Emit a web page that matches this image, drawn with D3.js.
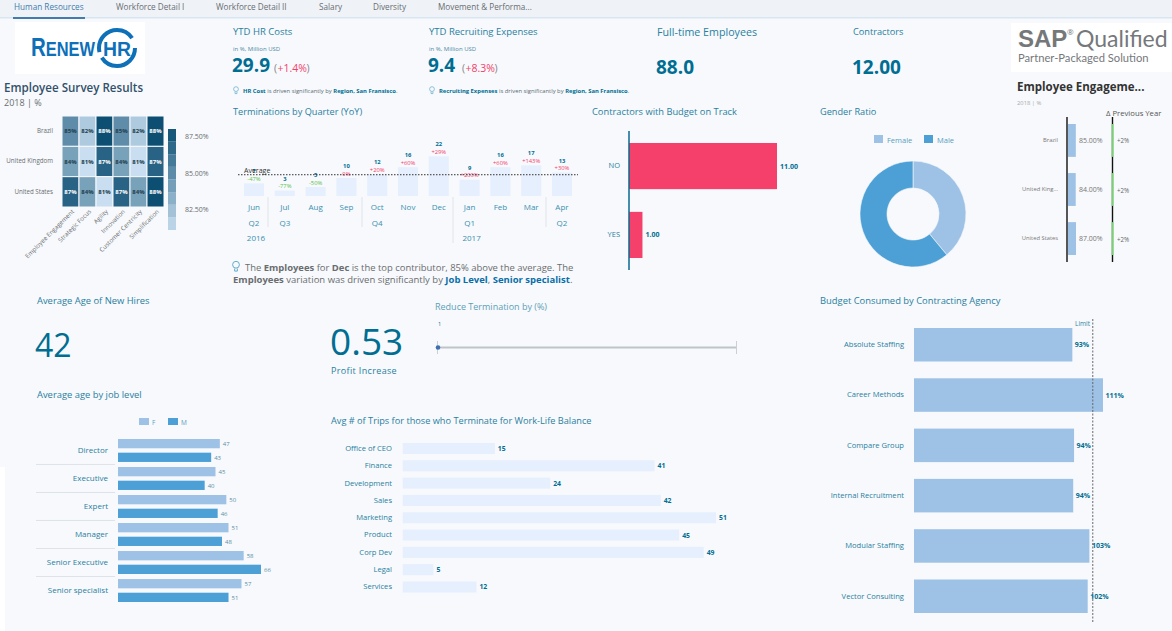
<!DOCTYPE html>
<html><head><meta charset="utf-8">
<script src="https://cdn.jsdelivr.net/npm/d3@7"></script>
<style>
html,body{margin:0;padding:0;background:#f7f9fc;overflow:hidden}
svg{display:block}
text{font-family:"Open Sans","Noto Sans",sans-serif}
</style></head><body>
<svg id="c" width="1172" height="631"></svg>
<script>
const tabs=["Human Resources","Workforce Detail I","Workforce Detail II","Salary","Diversity","Movement & Performa..."];
const surveyRows=["Brazil","United Kingdom","United States"];
const surveyCols=["Employee Engagement","Strategic Focus","Agility","Innovation","Customer Centricity","Simplification"];
const surveyBrazil=[85,82,88,85,82,88];
const surveyUK=[84,81,87,84,81,87];
const surveyUS=[87,84,81,87,84,88];
const surveyLegendTicks=[82.5,85,87.5];
const months=["Jun","Jul","Aug","Sep","Oct","Nov","Dec","Jan","Feb","Mar","Apr"];
const terminations=[7,3,5,10,12,16,22,9,16,17,13];
const termChanges=["-47%","-77%","-50%","0%","+20%","+60%","+29%","+200%","+60%","+143%","+30%"];
const quarters=["Q2","Q3","","","Q4","","","Q1","","","Q2"];
const years=["2016","","","","","","","2017","","",""];
const contractorCats=["NO","YES"];
const contractorVals=[11,1];
const genderCats=["Female","Male"];
const genderVals=[39,61];
const engageCats=["Brazil","United King...","United States"];
const engageVals=[85,84,87];
const engageDelta=["+2%","+2%","+2%"];
const jobLevels=["Director","Executive","Expert","Manager","Senior Executive","Senior specialist"];
const ageF=[47,45,50,51,58,57];
const ageM=[43,40,46,48,66,51];
const tripCats=["Office of CEO","Finance","Development","Sales","Marketing","Product","Corp Dev","Legal","Services"];
const tripVals=[15,41,24,42,51,45,49,5,12];
const agencyCats=["Absolute Staffing","Career Methods","Compare Group","Internal Recruitment","Modular Staffing","Vector Consulting"];
const agencyVals=[93,111,94,93.5,103,102];
const agencyLimit=[105];

const TEAL="#2a80a0",NUM="#006d92",PINK="#f4406a",LBLUE="#9dc2e6",BLUE="#4da0d6",PALE="#e6effd",GREY="#6a6d70",GREEN="#6fd86a";
const svg=d3.select("#c");
svg.append("rect").attr("width",1172).attr("height",631).attr("fill","#f7f9fc");
svg.append("rect").attr("x",0).attr("y",467).attr("width",5).attr("height",164).attr("fill","#fff");
function T(x,y,s,o={}){
  const t=svg.append("text").attr("x",x).attr("y",y).text(s)
   .attr("font-size",o.size||9.5).attr("fill",o.fill||TEAL)
   .attr("font-weight",o.weight||400).attr("text-anchor",o.anchor||"start");
  if(o.ls)t.attr("letter-spacing",o.ls);
  if(o.family)t.style("font-family",o.family);
  return t;
}
function catAxis(scale,x,size,fill){
  const g=svg.append("g").attr("transform",`translate(${x},0)`).call(d3.axisLeft(scale).tickSize(0).tickPadding(0));
  g.select(".domain").remove();
  g.selectAll("text").attr("font-size",size).attr("fill",fill||TEAL).style("font-family",'"Open Sans",sans-serif');
  return g;
}
// nav
svg.append("rect").attr("width",1172).attr("height",17).attr("fill","#eff3f8");
svg.append("rect").attr("y",17).attr("width",1172).attr("height",1.5).attr("fill","#d8e6f1");
const tabX=[14,116,216,319,373,438];
tabs.forEach((t,i)=>T(tabX[i],10,t,{size:8.2,fill:i?GREY:"#427cac"}));
svg.append("rect").attr("x",13).attr("y",17).attr("width",72).attr("height",2).attr("fill","#427cac");
// logos
svg.append("rect").attr("x",15).attr("y",22).attr("width",130).attr("height",52).attr("fill","#fff");
const rn=T(31,56,"",{weight:700,fill:"#0d70b8",family:"'Liberation Sans',sans-serif"});
rn.attr("textLength",64).attr("lengthAdjust","spacingAndGlyphs");
rn.append("tspan").attr("font-size",25).text("R");
rn.append("tspan").attr("font-size",20).text("ENEW");
svg.append("circle").attr("cx",117).attr("cy",48).attr("r",18).attr("fill","none").attr("stroke","#0d70b8").attr("stroke-width",4).attr("stroke-dasharray","46,6,50,11");
T(103,55.5,"HR",{size:20,weight:700,fill:"#0d70b8",family:"'Liberation Sans',sans-serif"}).attr("textLength",28).attr("lengthAdjust","spacingAndGlyphs");
svg.append("rect").attr("x",1011).attr("y",23).attr("width",161).attr("height",49).attr("fill","#fff");
T(1018,47,"SAP",{size:24,weight:700,fill:"#75787b",family:"'Liberation Sans',sans-serif"});
T(1067,35,"®",{size:8,fill:"#75787b"});
T(1076,47,"Qualified",{size:23,fill:"#75787b",family:"Lato,sans-serif"});
T(1018,62,"Partner-Packaged Solution",{size:11.2,fill:"#75787b",family:"Lato,sans-serif"});
// survey
T(4,92,"Employee Survey Results",{size:11.6,weight:600,fill:"#32506a"});
T(4,106,"2018 | %",{size:9,fill:"#6a6d70"});
const hx=d3.scaleBand().domain(surveyCols).range([62,164]);
const hy=d3.scaleBand().domain(surveyRows).range([116,207]);
const hc=d3.scaleLinear().domain([81,88]).range(["#c9def0","#0d4f73"]);
[surveyBrazil,surveyUK,surveyUS].forEach((row,r)=>row.forEach((v,c)=>{
  svg.append("rect").attr("x",hx(surveyCols[c])).attr("y",hy(surveyRows[r])).attr("width",hx.bandwidth()).attr("height",hy.bandwidth()).attr("fill",hc(v)).attr("stroke","#f7f9fc").attr("stroke-width",1);
  T(hx(surveyCols[c])+hx.bandwidth()/2,hy(surveyRows[r])+hy.bandwidth()/2+2.2,v+"%",{size:6,weight:700,anchor:"middle",fill:v>=87?"#fff":"#23404f"});
}));
catAxis(hy,53,6.2,GREY);
surveyCols.forEach(c=>{
  T(0,0,c,{size:6.2,fill:GREY,anchor:"end"}).attr("x",null).attr("y",null)
   .attr("transform",`translate(${hx(c)+hx.bandwidth()/2+4},${212}) rotate(-45)`);
});
const ly=d3.scaleLinear().domain([81.1,88.05]).range([230,129]);
d3.range(8).forEach(i=>{
  const a=81.1+i*6.95/8,b=a+6.95/8;
  svg.append("rect").attr("x",168).attr("y",ly(b)).attr("width",8).attr("height",ly(a)-ly(b)).attr("fill",hc(a+.43));
});
surveyLegendTicks.forEach(t=>T(185,ly(t)+2.5,d3.format(".2f")(t)+"%",{size:7,fill:GREY}));
// KPI
function bulb(x,y,k){
  const g=svg.append("g").attr("transform",`translate(${x},${y}) scale(${k})`);
  g.append("circle").attr("r",4).attr("cy",-1.5).attr("fill","none").attr("stroke","#5aa7c7").attr("stroke-width",1.1);
  g.append("path").attr("d","M-1.6,3 V6 H1.6 V3").attr("fill","none").attr("stroke","#5aa7c7").attr("stroke-width",1.1);
}
function kpi(x,title,val,ch,w,bold){
  T(x,35,title,{size:9.5});
  T(x,51,"in %, Million USD",{size:6,fill:"#4e8aa5"});
  T(x-1,72,val,{size:19,weight:700,fill:NUM});
  T(x+w,72,"(",{size:10.5,fill:"#888"});
  T(x+w+3.5,72,ch,{size:10.5,fill:PINK});
  T(x+w+3.5+(ch.length*5.6)+1,72,")",{size:10.5,fill:"#888"});
  bulb(x+3,90,.6);
  const s=T(x+10,93,"",{size:5.85,fill:"#5b6b75"});
  s.append("tspan").attr("font-weight",700).attr("fill",NUM).text(bold);
  s.append("tspan").text(" is driven significantly by ");
  s.append("tspan").attr("font-weight",700).attr("fill",NUM).text("Region, San Fransisco");
  s.append("tspan").text(".");
}
kpi(233,"YTD HR Costs","29.9","+1.4%",41,"HR Cost");
kpi(429,"YTD Recruiting Expenses","9.4","+8.3%",33,"Recruiting Expenses");
T(657,36,"Full-time Employees",{size:10.7});
T(656,74,"88.0",{size:19,weight:700,fill:NUM});
T(853,35,"Contractors",{size:9.2});
T(852,74,"12.00",{size:19,weight:700,fill:NUM});
// terminations
T(233,115,"Terminations by Quarter (YoY)",{size:9.2});
const tx=d3.scaleBand().domain(months).range([244,572]).paddingInner(.35);
const ty=d3.scaleLinear().domain([0,22]).range([196,156.4]);
months.forEach((m,i)=>{
  const cx=tx(m)+tx.bandwidth()/2,v=terminations[i];
  svg.append("rect").attr("x",tx(m)).attr("y",ty(v)).attr("width",tx.bandwidth()).attr("height",ty(0)-ty(v)).attr("fill",PALE);
  const ch=termChanges[i];
  T(cx,ty(v)-10,v,{size:5.8,weight:700,anchor:"middle",fill:NUM});
  T(cx,ty(v)-2.5,ch,{size:5.8,anchor:"middle",fill:ch[0]=="+"||ch=="0%"?PINK:"#59c24f"});
  T(cx,210,m,{size:8,anchor:"middle",fill:"#3a90b0"});
  if(quarters[i])T(cx,225.5,quarters[i],{size:8,anchor:"middle",fill:"#3a90b0"});
  if(years[i])T(cx+2,241,years[i],{size:8,anchor:"middle",fill:"#3a90b0"});
});
const avg=d3.mean(terminations);
svg.append("line").attr("x1",238).attr("x2",578).attr("y1",ty(avg)).attr("y2",ty(avg)).attr("stroke","#333").attr("stroke-width",1).attr("stroke-dasharray","1.5,1.5");
T(244,173,"Average",{size:7,fill:"#333"});
[[268,227],[362,227],[453,243],[546,227]].forEach(d=>svg.append("line").attr("x1",d[0]).attr("x2",d[0]).attr("y1",197).attr("y2",d[1]).attr("stroke","#dfe4e9"));
bulb(236,266,.85);
const i1=T(245,271,"",{size:9.45,fill:"#6a6d70"});
[["The ",0],["Employees",1],[" for ",0],["Dec",1],[" is the top contributor, 85% above the average. The",0]].forEach(d=>i1.append("tspan").attr("font-weight",d[1]?700:400).text(d[0]));
const i2=T(233,283,"",{size:9.5,fill:"#6a6d70"});
[["Employees",1],[" variation was driven significantly by ",0],["Job Level",2],[", ",0],["Senior specialist",2],[".",0]].forEach(d=>{const s=i2.append("tspan").attr("font-weight",d[1]?700:400).text(d[0]);if(d[1]==2)s.attr("fill","#0a6ea8");});
// contractors
T(592,115,"Contractors with Budget on Track",{size:9.3});
const cy=d3.scaleBand().domain(contractorCats).range([143,258]).paddingInner(.33);
const cxs=d3.scaleLinear().domain([0,11]).range([629,777]);
contractorCats.forEach((c,i)=>{
  svg.append("rect").attr("x",cxs(0)).attr("y",cy(c)).attr("width",cxs(contractorVals[i])-cxs(0)).attr("height",cy.bandwidth()).attr("fill",PINK);
  T(cxs(contractorVals[i])+3,cy(c)+cy.bandwidth()/2+2.5,d3.format(".2f")(contractorVals[i]),{size:7,weight:700,fill:NUM});
});
svg.append("line").attr("x1",629).attr("x2",629).attr("y1",131).attr("y2",270).attr("stroke","#0a6a90").attr("stroke-width",1.5);
catAxis(cy,620,7.5);
// gender
T(820,115,"Gender Ratio",{size:9.2});
const gc=d3.scaleOrdinal().domain(genderCats).range([LBLUE,BLUE]);
[[874,887],[924,937]].forEach((p,i)=>{
  svg.append("rect").attr("x",p[0]).attr("y",135).attr("width",9).attr("height",8).attr("fill",gc(genderCats[i]));
  T(p[1],142.5,genderCats[i],{size:7.5,fill:"#5aa0c0"});
});
const pie=d3.pie().sort(null)(genderVals);
const arc=d3.arc().innerRadius(26).outerRadius(53);
const dg=svg.append("g").attr("transform","translate(913,214)");
dg.selectAll("path").data(pie).join("path").attr("d",arc).attr("fill",(d,i)=>gc(genderCats[i])).attr("stroke","#f7f9fc").attr("stroke-width",.6);
// engagement
T(1017,91,"Employee Engageme...",{size:11.5,weight:700,fill:"#333"});
T(1017,105,"2018 | %",{size:5.8,fill:"#aaa"});
T(1106,116,"Δ Previous Year",{size:7.7,fill:"#555"});
const ey=d3.scaleBand().domain(engageCats).range([124,255]).paddingInner(.33);
const ex=d3.scaleLinear().domain([0,87]).range([1068,1076]);
svg.append("line").attr("x1",1067).attr("x2",1067).attr("y1",117).attr("y2",262).attr("stroke","#111").attr("stroke-width",1.4);
svg.append("line").attr("x1",1112.5).attr("x2",1112.5).attr("y1",117).attr("y2",262).attr("stroke","#111").attr("stroke-width",1.4);
engageCats.forEach((c,i)=>{
  svg.append("rect").attr("x",ex(0)).attr("y",ey(c)).attr("width",ex(engageVals[i])-ex(0)).attr("height",ey.bandwidth()).attr("fill",LBLUE);
  svg.append("line").attr("x1",1112.5).attr("x2",1112.5).attr("y1",ey(c)).attr("y2",ey(c)+ey.bandwidth()).attr("stroke",GREEN).attr("stroke-width",1.6);
  T(1079,ey(c)+ey.bandwidth()/2+2.5,d3.format(".2f")(engageVals[i])+"%",{size:7,fill:"#777"});
  T(1117,ey(c)+ey.bandwidth()/2+3,engageDelta[i],{size:6.2,fill:"#666"});
});
catAxis(ey,1058,5.8,"#777");
// big numbers
T(37,304,"Average Age of New Hires",{size:9.4});
T(35,357,"42",{size:32,fill:NUM});
T(37,398,"Average age by job level",{size:9.4});
T(330,355,"0.53",{size:37,fill:NUM});
T(331,373.5,"Profit Increase",{size:9,ls:.35});
T(435,310,"Reduce Termination by (%)",{size:9,fill:"#5d9fb8"});
T(438,326,"1",{size:5.5,fill:NUM});
svg.append("line").attr("x1",438).attr("x2",736.5).attr("y1",347.5).attr("y2",347.5).attr("stroke","#bfc4c8").attr("stroke-width",2);
[437.5,736.5].forEach(x=>svg.append("line").attr("x1",x).attr("x2",x).attr("y1",341).attr("y2",354).attr("stroke","#ccd0d4"));
svg.append("circle").attr("cx",438).attr("cy",347.5).attr("r",2.3).attr("fill","#3f6fae");
// job level
const jy=d3.scaleBand().domain(jobLevels).range([439,602]).paddingInner(.18);
const js=d3.scaleBand().domain(["F","M"]).range([0,jy.bandwidth()]).paddingInner(.32);
const jx=d3.scaleLinear().domain([0,66]).range([118,261]);
[["F",139,152,LBLUE],["M",168,181,BLUE]].forEach(d=>{
  svg.append("rect").attr("x",d[1]).attr("y",418).attr("width",10).attr("height",7).attr("fill",d[3]);
  T(d[2],424.5,d[0],{size:6.5,fill:"#5aa0c0"});
});
jobLevels.forEach((j,i)=>{
  [["F",ageF[i],LBLUE],["M",ageM[i],BLUE]].forEach(d=>{
    svg.append("rect").attr("x",jx(0)).attr("y",jy(j)+js(d[0])).attr("width",jx(d[1])-jx(0)).attr("height",js.bandwidth()).attr("fill",d[2]);
    T(jx(d[1])+3,jy(j)+js(d[0])+js.bandwidth()/2+2.3,d[1],{size:6,fill:"#5b8ea5"});
  });
  if(i<5){const y=jy(j)+jy.bandwidth()+2.5;svg.append("line").attr("x1",36).attr("x2",115).attr("y1",y).attr("y2",y).attr("stroke","#dde3e8");}
});
catAxis(jy,108,8);
// trips
T(331,424,"Avg # of Trips for those who Terminate for Work-Life Balance",{size:9.2});
const ty2=d3.scaleBand().domain(tripCats).range([443,592.5]).paddingInner(.364);
const tx2=d3.scaleLinear().domain([0,51]).range([402.7,716]);
tripCats.forEach((c,i)=>{
  svg.append("rect").attr("x",tx2(0)).attr("y",ty2(c)).attr("width",tx2(tripVals[i])-tx2(0)).attr("height",ty2.bandwidth()).attr("fill",PALE);
  T(tx2(tripVals[i])+3,ty2(c)+ty2.bandwidth()/2+2.5,tripVals[i],{size:6.8,weight:700,fill:NUM});
});
catAxis(ty2,392,7.6);
// budget
T(820,304,"Budget Consumed by Contracting Agency",{size:9.4});
const by=d3.scaleBand().domain(agencyCats).range([328,613]).paddingInner(.334);
const bx=d3.scaleLinear().domain([0,111]).range([914,1103]);
agencyCats.forEach((c,i)=>{
  svg.append("rect").attr("x",bx(0)).attr("y",by(c)).attr("width",bx(agencyVals[i])-bx(0)).attr("height",by.bandwidth()).attr("fill",LBLUE);
});
svg.append("line").attr("x1",bx(agencyLimit[0])).attr("x2",bx(agencyLimit[0])).attr("y1",319).attr("y2",622).attr("stroke","#666").attr("stroke-dasharray","2,1.5");
agencyCats.forEach((c,i)=>{
  T(bx(agencyVals[i])+2.5,by(c)+by.bandwidth()/2+2.5,Math.round(agencyVals[i])+"%",{size:7,weight:700,fill:NUM});
});
T(1090,326,"Limit",{size:6.5,anchor:"end"});
catAxis(by,904,7.6);
</script></body></html>
